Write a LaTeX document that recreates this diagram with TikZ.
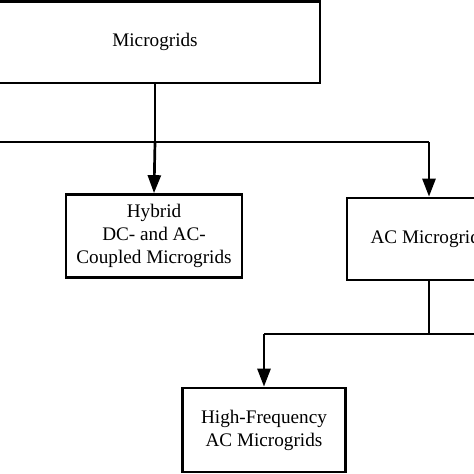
\documentclass[tikz,border=0pt]{standalone}
\usepackage{fontspec}
\setmainfont{Liberation Serif}
\usetikzlibrary{arrows.meta,positioning}

\begin{document}
\begin{tikzpicture}[
  x=1pt, y=-1pt,
  box/.style={draw, line width=2.7pt, align=center, inner sep=0pt, font=\fontsize{19.2}{23}\selectfont},
  link/.style={line width=2.7pt},
  arr/.style={link, -{Triangle[length=18pt,width=13pt]}}
]
\useasboundingbox (0,0) rectangle (474,474);
\clip (0,0) rectangle (474,474);
\node[box, minimum width=330pt, minimum height=81.5pt] (mg) at (155,42.25) {Microgrids};
\node[box, minimum width=176pt, minimum height=83pt] (hyb) at (154,236) {Hybrid\\DC- and AC-\\Coupled Microgrids};
\node[box, minimum width=164pt, minimum height=82pt] (acm) at (429,239) {AC Microgrids};
\node[box, minimum width=163pt, minimum height=84pt] (hfa) at (264,430) {High-Frequency\\AC Microgrids};
\coordinate (busl) at (-10,142);
\coordinate (busr) at (484,334);
\draw[link] (mg.south) -- (mg.south |- busl);
\draw[link] (busl) -- (acm.north |- busl);
\draw[arr] (mg.south |- busl) -- (hyb.north);
\draw[arr] (acm.north |- busl) -- (acm.north);
\draw[link] (acm.south) -- (acm.south |- busr);
\draw[link] (busr) -- (hfa.north |- busr);
\draw[arr] (hfa.north |- busr) -- (hfa.north);
\end{tikzpicture}
\end{document}
